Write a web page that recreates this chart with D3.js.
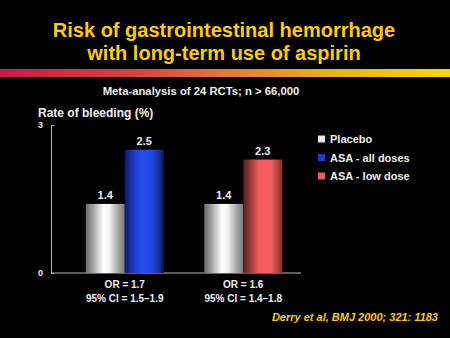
<!DOCTYPE html>
<html>
<head>
<meta charset="utf-8">
<script src="https://cdn.jsdelivr.net/npm/d3@7"></script>
<style>
  body { margin: 0; background: #000; }
  svg { display: block; }
  text { font-family: "Liberation Sans", Arial, sans-serif; font-weight: bold; }
</style>
</head>
<body>
<div id="chart"></div>
<script>
// data
var groups = ["all", "low"];
var placeboRates = [1.4, 1.4];
var asaRates = [2.5, 2.3];
var seriesNames = ["Placebo", "ASA - all doses", "ASA - low dose"];
var orLabels = ["OR = 1.7", "OR = 1.6"];
var ciLabels = ["95% CI = 1.5\u20131.9", "95% CI = 1.4\u20131.8"];
var yTicks = [0, 3];

var width = 450, height = 338;

var svg = d3.select("#chart")
    .append("svg")
    .attr("width", width)
    .attr("height", height);

svg.append("rect")
    .attr("width", width)
    .attr("height", height)
    .attr("fill", "#000");

var defs = svg.append("defs");

// horizontal shading for the cylinder-ish bars
function shade(id, stops) {
    var g = defs.append("linearGradient")
        .attr("id", id)
        .attr("x1", "0%").attr("x2", "100%")
        .attr("y1", "0%").attr("y2", "0%");
    stops.forEach(function (s) {
        g.append("stop").attr("offset", s[0]).attr("stop-color", s[1]);
    });
}
shade("gPlacebo", [["0%", "#6a6a6a"], ["20%", "#a8a8a8"], ["45%", "#ffffff"], ["60%", "#f4f4f4"], ["85%", "#a0a0a0"], ["100%", "#7a7a7a"]]);
shade("gAll", [["0%", "#0c1a70"], ["25%", "#1c3cc8"], ["45%", "#2450f0"], ["70%", "#2048e0"], ["90%", "#142c90"], ["100%", "#0c1650"]]);
shade("gLow", [["0%", "#502020"], ["20%", "#a03c3c"], ["40%", "#f05c5c"], ["70%", "#f46060"], ["88%", "#b84444"], ["100%", "#803030"]]);
shade("gStripe", [["0%", "#d0184a"], ["30%", "#dc4040"], ["50%", "#e87832"], ["72%", "#e8b018"], ["100%", "#ffd200"]]);

var legendFill = ["#e8e8e8", "#1c3cd8", "#f05c5c"];
var asaFill = ["url(#gAll)", "url(#gLow)"];

// title
var title = svg.append("text")
    .attr("x", 224)
    .attr("text-anchor", "middle")
    .attr("fill", "#ffcc00")
    .attr("font-size", 20);
title.append("tspan").attr("x", 224).attr("y", 37).text("Risk of gastrointestinal hemorrhage");
title.append("tspan").attr("x", 224).attr("y", 60).text("with long-term use of aspirin");

svg.append("rect")
    .attr("x", 0).attr("y", 69)
    .attr("width", width).attr("height", 8)
    .attr("fill", "url(#gStripe)");

svg.append("text")
    .attr("x", 201).attr("y", 95)
    .attr("text-anchor", "middle")
    .attr("fill", "#f0f0f0")
    .attr("font-size", 11.3)
    .text("Meta-analysis of 24 RCTs; n > 66,000");

svg.append("text")
    .attr("x", 38).attr("y", 117)
    .attr("fill", "#f0f0f0")
    .attr("font-size", 12)
    .text("Rate of bleeding (%)");

// scales
var y = d3.scaleLinear().domain([0, 3]).range([273, 125]);
var x0 = d3.scaleBand().domain(groups).range([66, 302])
    .paddingInner(0.342).paddingOuter(0.167);
var x1 = d3.scaleBand().domain([0, 1]).range([0, x0.bandwidth()]);

// axes
var yAxis = svg.append("g")
    .attr("transform", "translate(51,0)")
    .call(d3.axisLeft(y).tickValues(yTicks).tickFormat(d3.format("d")).tickSize(-3).tickPadding(8));
yAxis.select(".domain").attr("stroke", "#bbb");
yAxis.selectAll(".tick line").attr("stroke", "#bbb");
yAxis.selectAll(".tick text")
    .attr("fill", "#f0f0f0")
    .attr("font-size", 9)
    .attr("font-family", "Liberation Sans, Arial, sans-serif")
    .attr("font-weight", "bold");

svg.append("line")
    .attr("x1", 51).attr("x2", 301)
    .attr("y1", y(0)).attr("y2", y(0))
    .attr("stroke", "#bbb");

// bars
var gs = svg.selectAll("g.grp")
    .data(groups)
    .enter()
    .append("g")
    .attr("class", "grp")
    .attr("transform", function (d) { return "translate(" + x0(d) + ",0)"; });

gs.each(function (d, i) {
    var g = d3.select(this);
    var vals = [placeboRates[i], asaRates[i]];
    var fills = ["url(#gPlacebo)", asaFill[i]];
    vals.forEach(function (v, j) {
        g.append("rect")
            .attr("x", x1(j))
            .attr("y", y(v))
            .attr("width", x1.bandwidth())
            .attr("height", y(0) - y(v))
            .attr("fill", fills[j]);
        g.append("text")
            .attr("x", x1(j) + x1.bandwidth() / 2)
            .attr("y", y(v) - 5)
            .attr("text-anchor", "middle")
            .attr("fill", "#f0f0f0")
            .attr("font-size", 11)
            .text(v.toFixed(1));
    });
    g.append("text")
        .attr("x", x0.bandwidth() / 2)
        .attr("y", 288)
        .attr("text-anchor", "middle")
        .attr("fill", "#f0f0f0")
        .attr("font-size", 10)
        .text(orLabels[i]);
    g.append("text")
        .attr("x", x0.bandwidth() / 2)
        .attr("y", 302)
        .attr("text-anchor", "middle")
        .attr("fill", "#f0f0f0")
        .attr("font-size", 10)
        .text(ciLabels[i]);
});

// legend
var leg = svg.selectAll("g.leg")
    .data(seriesNames)
    .enter()
    .append("g")
    .attr("class", "leg")
    .attr("transform", function (d, i) { return "translate(318," + (139 + i * 18.5) + ")"; });
leg.append("rect")
    .attr("x", 0).attr("y", -3.5)
    .attr("width", 7).attr("height", 7)
    .attr("fill", function (d, i) { return legendFill[i]; });
leg.append("text")
    .attr("x", 12).attr("y", 4)
    .attr("fill", "#f0f0f0")
    .attr("font-size", 11)
    .text(function (d) { return d; });

svg.append("text")
    .attr("x", 438).attr("y", 321)
    .attr("text-anchor", "end")
    .attr("fill", "#ffcc00")
    .attr("font-size", 11)
    .attr("font-style", "italic")
    .text("Derry et al, BMJ 2000; 321: 1183");
</script>
</body>
</html>
